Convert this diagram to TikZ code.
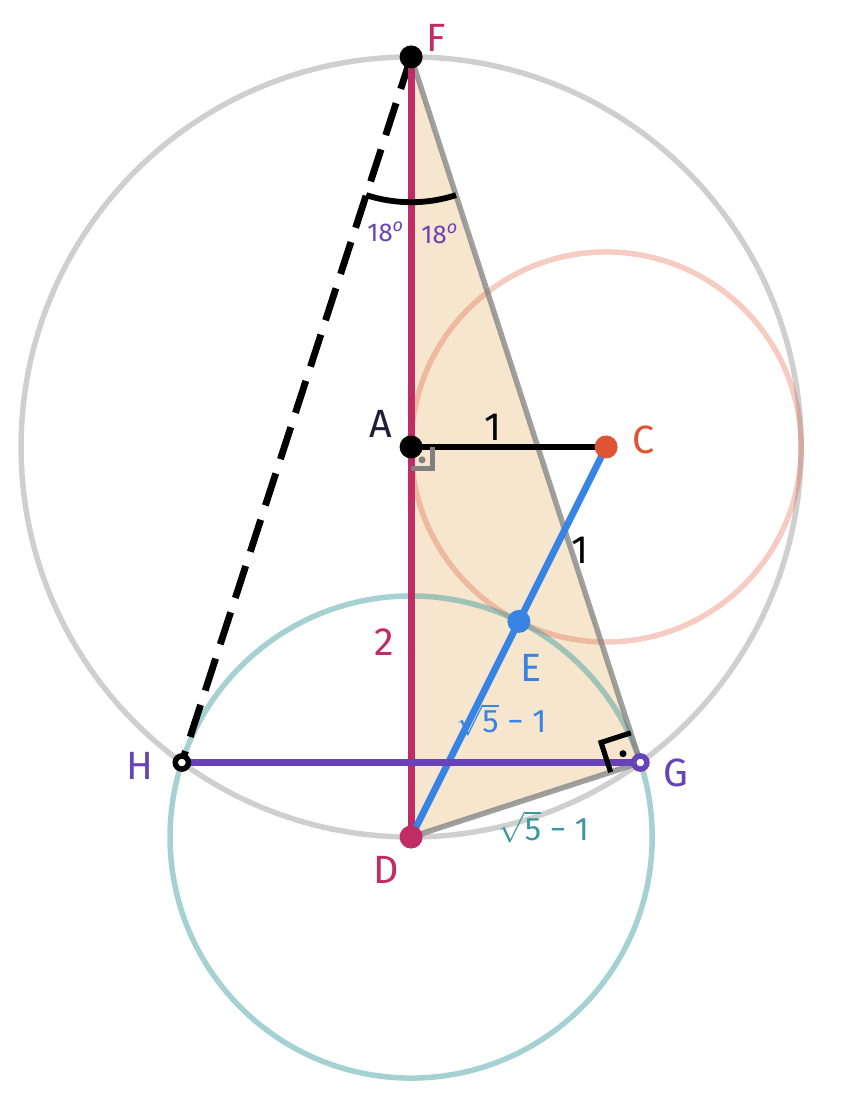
\documentclass[tikz,border=0pt]{standalone}
\usepackage{fontspec}
\setmainfont{Fira Sans}
\usetikzlibrary{positioning}

\definecolor{crim}{RGB}{192,44,102}
\definecolor{skyb}{RGB}{56,132,228}
\definecolor{purp}{RGB}{104,66,184}
\definecolor{tomat}{RGB}{222,84,52}
\definecolor{tealc}{RGB}{58,152,158}
\definecolor{beig}{RGB}{245,230,205}
\definecolor{ringg}{RGB}{207,207,207}
\definecolor{inkA}{RGB}{30,30,55}

\tikzset{
  pt/.style={circle, fill=#1, inner sep=0pt, minimum size=0.236cm},
  hollow/.style={circle, draw=#1, fill=white, line width=1.6pt, inner sep=0pt, minimum size=0.135cm},
  lbl/.style={font=\fontsize{11.5}{13}\selectfont, inner sep=0pt},
  smalllbl/.style={font=\fontsize{9.5}{11}\selectfont, inner sep=0pt},
  anglbl/.style={font=\fontsize{7.5}{9}\selectfont, inner sep=0pt, text=purp},
  seg/.style={line width=2pt},
  ring/.style={line width=1.6pt}
}
\newcommand{\rootfive}{$\sqrt{\hbox{5}}$ − 1}

\begin{document}
\begin{tikzpicture}[x=2cm, y=2cm]
  \useasboundingbox (-2.108,-3.410) rectangle (2.221,2.292);

  % points
  \coordinate (F) at (0,2);
  \coordinate (A) at (0,0);
  \coordinate (C) at (1,0);
  \coordinate (D) at (0,-2);
  \coordinate (E) at (0.5528,-0.8944);
  \coordinate (G) at (-54:2);
  \coordinate (H) at (234:2);

  % triangle and circles
  \fill[beig] (F) -- (D) -- (G) -- cycle;
  \draw[ring, ringg] (A) circle[radius=2];
  \draw[ring, tomat, opacity=0.3] (C) circle[radius=1];
  \draw[ring, tealc, opacity=0.45] (D) circle[radius=1.2361];
  \draw[ring, gray, opacity=0.75] (F) -- (G) -- (D);

  % segments
  \draw[seg, dash pattern=on 9.8pt off 4.4pt] (F) -- (H);
  \draw[seg, crim] (F) -- (D);
  \draw[seg] (A) -- (C);
  \draw[seg, skyb] (D) -- (C);
  \draw[seg, purp] (H) -- (G);

  % angle marks
  \draw[line width=1.7pt] (F) ++(252:0.745) arc[start angle=252, end angle=288, radius=0.745];
  \draw[gray, line width=1.5pt] (0.11,0) -- (0.11,-0.11) -- (0,-0.11);
  \fill[gray] (0.056,-0.066) circle[radius=0.018];
  \draw[line width=1.5pt] (G) ++(108:0.16) -- ++(198:0.16) -- ++(-72:0.16);
  \fill (G) ++(153:0.1) circle[radius=0.018];

  % dots
  \node[pt=black] (dotF) at (F) {};
  \node[pt=black] (dotA) at (A) {};
  \node[pt=tomat] (dotC) at (C) {};
  \node[pt=crim] (dotD) at (D) {};
  \node[pt=skyb] (dotE) at (E) {};
  \node[hollow=purp] (dotG) at (G) {};
  \node[hollow=black] (dotH) at (H) {};

  % labels
  \node[lbl, text=crim] (labF) at (0.128,2.097) {F};
  \node[lbl, text=inkA] (labA) at (-0.154,0.118) {A};
  \node[lbl, text=tomat] (labC) at (1.19,0.036) {C};
  \node[lbl, text=crim] (labD) at (-0.128,-2.169) {D};
  \node[lbl, text=skyb] (labE) at (0.615,-1.133) {E};
  \node[lbl, text=purp] (labG) at (1.359,-1.672) {G};
  \node[lbl, text=purp] (labH) at (-1.39,-1.636) {H};
  \node[lbl] (labAC) at (0.42,0.103) {1};
  \node[lbl] (labCE) at (0.867,-0.528) {1};
  \node[lbl, text=crim] (labAD) at (-0.138,-1.0) {2};
  \node[smalllbl, text=skyb] (labDE) at (0.462,-1.40) {\rootfive};
  \node[smalllbl, text=tealc] (labDG) at (0.68,-1.95) {\rootfive};
  \node[anglbl] (angL) at (-0.128,1.102) {18\textsuperscript{\itshape o}};
  \node[anglbl] (angR) at (0.149,1.092) {18\textsuperscript{\itshape o}};
\end{tikzpicture}
\end{document}
